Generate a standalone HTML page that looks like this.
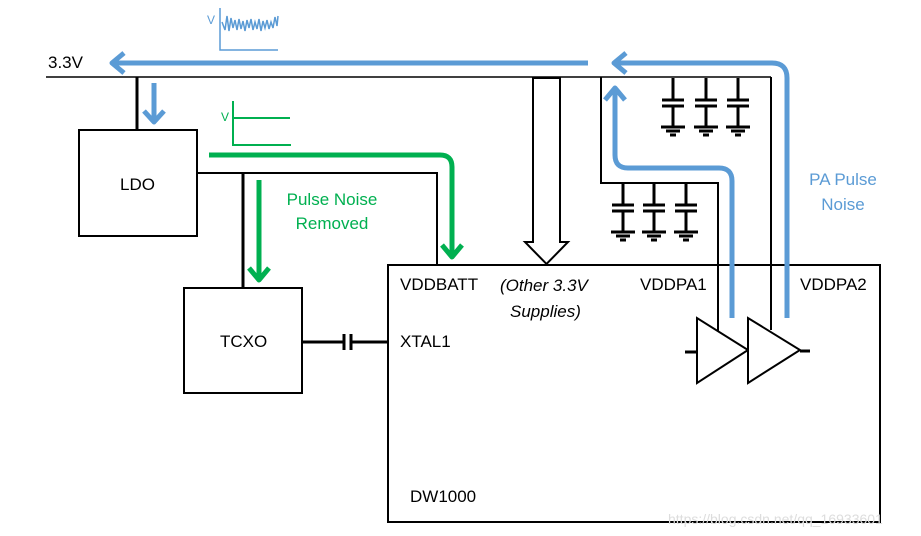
<!DOCTYPE html>
<html><head><meta charset="utf-8"><style>
html,body{margin:0;padding:0;background:#fff;}
svg{display:block;font-family:"Liberation Sans",sans-serif;}
</style></head><body>
<svg width="921" height="536" viewBox="0 0 921 536" xmlns="http://www.w3.org/2000/svg">
<g fill="none" stroke="#000" stroke-width="2">
 <line x1="46" y1="77" x2="771" y2="77" stroke-width="1.5"/>
 <line x1="137" y1="77" x2="137" y2="130" stroke-width="3"/>
 <rect x="79" y="130" width="118" height="106"/>
 <polyline points="197,173 437,173 437,265"/>
 <line x1="243" y1="173" x2="243" y2="288" stroke-width="3"/>
 <rect x="184" y="288" width="118" height="105"/>
 <rect x="388" y="265" width="492" height="257"/>
 <line x1="302" y1="342" x2="344" y2="342" stroke-width="3"/>
 <line x1="351" y1="342" x2="388" y2="342" stroke-width="3"/>
 <line x1="344" y1="334" x2="344" y2="350" stroke-width="3"/>
 <line x1="351" y1="334" x2="351" y2="350" stroke-width="3"/>
 <polyline points="771,77 771,330"/>
 <polyline points="601,77 601,183 718,183 718,331"/>
 <polygon points="533,78 560,78 560,242 568,242 546.5,264 525,242 533,242" fill="#fff"/>
 <polygon points="697,318 697,383 748,350" fill="#fff"/>
 <polygon points="748,318 748,383 800,350" fill="#fff"/>
 <line x1="685" y1="352" x2="697" y2="352" stroke-width="3"/>
 <line x1="800" y1="351" x2="810" y2="351" stroke-width="3"/>
</g>
<g stroke="#000" stroke-width="3" fill="none">
 <g id="c1">
  <line x1="673" y1="78" x2="673" y2="100"/><line x1="662" y1="100" x2="684" y2="100"/><line x1="662" y1="106" x2="684" y2="106"/><line x1="673" y1="106" x2="673" y2="127"/><line x1="661" y1="127" x2="685" y2="127"/><line x1="666" y1="131" x2="680" y2="131"/><line x1="670" y1="135" x2="676" y2="135"/>
 </g>
 <use href="#c1" x="33"/><use href="#c1" x="65"/>
 <use href="#c1" x="-50" y="105"/><use href="#c1" x="-19" y="105"/><use href="#c1" x="13" y="105"/>
</g>
<g stroke="#5b9bd5" stroke-width="5" fill="none" stroke-linejoin="round">
 <line x1="112" y1="63" x2="588" y2="63"/>
 <polyline points="124,53 112,63 124,73"/>
 <path d="M614,63 L772,63 Q787,63 787,78 L787,318"/>
 <polyline points="626,53 614,63 626,73"/>
 <path d="M615,88 L615,155 Q615,168 628,168 L719,168 Q732,168 732,181 L732,318"/>
 <polyline points="605,100 615,88 625,100"/>
 <line x1="154" y1="83" x2="154" y2="121"/>
 <polyline points="144,111 154,122 164,111"/>
</g>
<g stroke="#5b9bd5" stroke-width="1.5" fill="none">
 <polyline points="220,8 220,50 278,50"/>
 <polyline points="222,22 225,30 227,16 229,31 231,18 233,28 235,20 237,30 239,19 241,29 243,21 245,31 247,20 249,28 251,19 253,30 255,22 257,29 259,19 261,31 263,21 265,28 267,20 269,29 271,22 273,28 275,17 277,26 278,16"/>
</g>
<text x="207" y="24" font-size="12" fill="#5b9bd5">V</text>
<g stroke="#00b050" stroke-width="2" fill="none">
 <polyline points="233,101 233,145 291,145"/><line x1="233" y1="118" x2="290" y2="118"/>
</g>
<text x="221" y="121" font-size="12" fill="#00b050">V</text>
<g stroke="#00b050" stroke-width="5" fill="none" stroke-linejoin="round">
 <path d="M209,155 L440,155 Q452,155 452,167 L452,256"/>
 <polyline points="442,245 452,257 462,245"/>
 <line x1="259" y1="180" x2="259" y2="279"/>
 <polyline points="249,268 259,280 269,268"/>
</g>
<g font-size="17" fill="#000">
 <text x="120" y="190">LDO</text>
 <text x="220" y="347">TCXO</text>
 <text x="400" y="290">VDDBATT</text>
 <text x="400" y="347">XTAL1</text>
 <text x="640" y="290">VDDPA1</text>
 <text x="800" y="290">VDDPA2</text>
 <text x="410" y="502">DW1000</text>
 <text x="500" y="291" font-style="italic">(Other 3.3V</text>
 <text x="510" y="317" font-style="italic">Supplies)</text>
 <text x="48" y="68">3.3V</text>
</g>
<g font-size="17" fill="#00b050" text-anchor="middle">
 <text x="332" y="205">Pulse Noise</text><text x="332" y="229">Removed</text>
</g>
<g font-size="17" fill="#5b9bd5" text-anchor="middle">
 <text x="843" y="185">PA Pulse</text><text x="843" y="210">Noise</text>
</g>
<text x="668" y="524" font-size="14" fill="#ddd">https://blog.csdn.net/qq_16933601</text>
</svg>
</body></html>
